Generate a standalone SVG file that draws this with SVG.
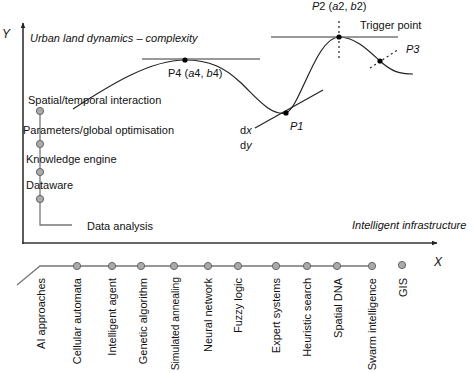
<svg xmlns="http://www.w3.org/2000/svg" width="474" height="373" viewBox="0 0 474 373">
<style>
text{font-family:"Liberation Sans",Arial,sans-serif;font-size:11px;fill:#111}
.i{font-style:italic}
.axis{stroke:#333;stroke-width:1.6;fill:none}
.g{stroke:#777;stroke-width:1.3;fill:none}
.k{stroke:#222;stroke-width:1.2;fill:none}
.dot{fill:#000}
.c{fill:#aaa;stroke:#666;stroke-width:1}
.v{text-anchor:end}
</style>
<defs>
<marker id="ah" viewBox="0 0 10 10" refX="9" refY="5" markerWidth="6" markerHeight="6" markerUnits="userSpaceOnUse" orient="auto"><path d="M0,1 L10,5 L0,9 Z" fill="#222"/></marker>
</defs>
<g id="connectors">
<line class="axis" x1="23" y1="244" x2="23" y2="23" marker-end="url(#ah)"/>
<line class="axis" x1="22" y1="243" x2="437" y2="243" marker-end="url(#ah)"/>
<path class="k" d="M73,109 C110,85 150,60 185,60 C210,60 225,68 240,82 C255,96 270,116 286,113 C300,108 316,37 339,37 C355,37 368,50 380,61 C392,72 400,74 413,74"/>
<line class="g" x1="142" y1="59" x2="260" y2="59"/>
<line class="g" x1="271" y1="37" x2="398" y2="37"/>
<line class="k" x1="339" y1="21" x2="339" y2="58" stroke-dasharray="2,3" stroke-width="1.3"/>
<line class="k" x1="370" y1="68" x2="399" y2="49" stroke-dasharray="2,3" stroke-width="1.3"/>
<line class="k" x1="255" y1="128" x2="323" y2="90"/>
<polyline class="g" points="40,111 40,225 72,225"/>
<polyline class="g" stroke="#555" points="17,285 40,266 372,266"/>
</g>
<g id="curve-points">
<circle class="dot" cx="185" cy="60" r="2.6"/>
<circle class="dot" cx="286" cy="113" r="2.6"/>
<circle class="dot" cx="339" cy="37" r="2.6"/>
<circle class="dot" cx="380" cy="61" r="2.6"/>
</g>
<g id="labels">
<text x="2" y="38" class="i" style="font-size:12px">Y</text>
<text x="434" y="266" class="i" style="font-size:12px">X</text>
<text x="30" y="42" class="i">Urban land dynamics – complexity</text>
<text x="352" y="229" class="i">Intelligent infrastructure</text>
<text x="168" y="77">P4 (<tspan class="i">a</tspan>4, <tspan class="i">b</tspan>4)</text>
<text x="312" y="10"><tspan class="i">P</tspan>2 (<tspan class="i">a</tspan>2, <tspan class="i">b</tspan>2)</text>
<text x="360" y="29">Trigger point</text>
<text x="406" y="53" class="i">P3</text>
<text x="290" y="130" class="i">P1</text>
<text x="240" y="134">d<tspan class="i">x</tspan></text>
<text x="240" y="149">d<tspan class="i">y</tspan></text>
</g>
<g id="stack-spatial"><text x="28" y="104">Spatial/temporal interaction</text><circle class="c" cx="40" cy="111" r="3.6"/></g>
<g id="stack-parameters"><text x="23" y="134">Parameters/global optimisation</text><circle class="c" cx="40" cy="144" r="3.6"/></g>
<g id="stack-knowledge"><text x="26" y="163">Knowledge engine</text><circle class="c" cx="40" cy="172" r="3.6"/></g>
<g id="stack-dataware"><text x="26" y="189">Dataware</text><circle class="c" cx="40" cy="199" r="3.6"/></g>
<g id="stack-data-analysis"><text x="87" y="230">Data analysis</text></g>
<g id="ai-approaches"><text class="v" transform="translate(45,278) rotate(-90)">AI approaches</text></g>
<g id="cellular-automata"><circle class="c" cx="77" cy="266" r="3.6"/><text class="v" transform="translate(81,278) rotate(-90)">Cellular automata</text></g>
<g id="intelligent-agent"><circle class="c" cx="112" cy="266" r="3.6"/><text class="v" transform="translate(116,278) rotate(-90)">Intelligent agent</text></g>
<g id="genetic-algorithm"><circle class="c" cx="141" cy="266" r="3.6"/><text class="v" transform="translate(147,278) rotate(-90)">Genetic algorithm</text></g>
<g id="simulated-annealing"><circle class="c" cx="174" cy="266" r="3.6"/><text class="v" style="font-size:10.3px" transform="translate(179,277) rotate(-90)">Simulated annealing</text></g>
<g id="neural-network"><circle class="c" cx="208" cy="266" r="3.6"/><text class="v" transform="translate(212,278) rotate(-90)">Neural network</text></g>
<g id="fuzzy-logic"><circle class="c" cx="238" cy="266" r="3.6"/><text class="v" transform="translate(242,278) rotate(-90)">Fuzzy logic</text></g>
<g id="expert-systems"><circle class="c" cx="276" cy="266" r="3.6"/><text class="v" transform="translate(280,278) rotate(-90)">Expert systems</text></g>
<g id="heuristic-search"><circle class="c" cx="307" cy="266" r="3.6"/><text class="v" transform="translate(311,278) rotate(-90)">Heuristic search</text></g>
<g id="spatial-dna"><circle class="c" cx="337" cy="266" r="3.6"/><text class="v" transform="translate(342,278) rotate(-90)">Spatial DNA</text></g>
<g id="swarm-intelligence"><circle class="c" cx="372" cy="266" r="3.6"/><text class="v" transform="translate(376,278) rotate(-90)">Swarm intelligence</text></g>
<g id="gis"><circle class="c" cx="402" cy="265" r="3.6"/><text class="v" transform="translate(407,278) rotate(-90)">GIS</text></g>
</svg>
